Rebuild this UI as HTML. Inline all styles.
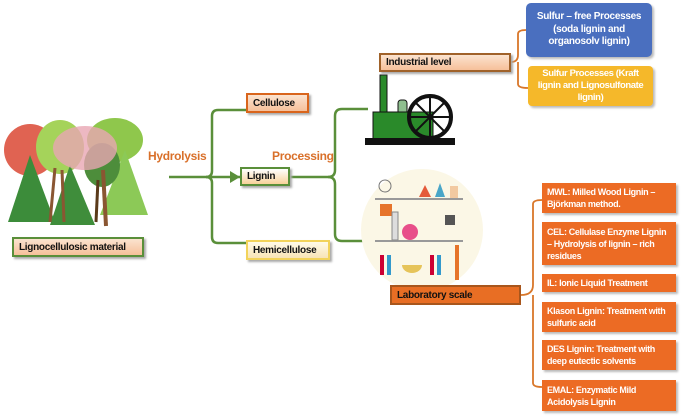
<!DOCTYPE html>
<html><head><meta charset="utf-8"><style>
body{margin:0;width:685px;height:419px;background:#fff;position:relative;overflow:hidden;font-family:"Liberation Sans",sans-serif;}
.b{position:absolute;box-sizing:border-box;font-weight:bold;font-size:10px;display:flex;align-items:center;letter-spacing:-0.3px;}
.pe{background:linear-gradient(#fbe3cf,#f6c09a);color:#111;padding-left:5px;box-shadow:2px 2px 2px #aaa;}
.o{background:#ec6b24;color:#fff;padding:2px 5px;font-size:9px;line-height:12px;box-shadow:2px 2px 2px #bbb;letter-spacing:-0.35px;}
.t{position:absolute;color:#d9702a;font-weight:bold;font-size:12px;letter-spacing:-0.3px;}
</style></head><body>
<svg width="685" height="419" style="position:absolute;left:0;top:0">
<ellipse cx="30" cy="150" rx="26" ry="26" fill="#e06352"/>
<ellipse cx="60" cy="147" rx="24" ry="27" fill="#a5d35a"/>
<ellipse cx="115" cy="140" rx="28" ry="22" fill="#8fc74c"/>
<polygon points="30,155 8,222 55,222" fill="#3c8c3a"/>
<polygon points="70,165 50,225 95,225" fill="#3f8d3b"/>
<polygon points="125,150 100,215 148,215" fill="#8cc957"/>
<ellipse cx="102" cy="165" rx="18" ry="22" fill="#4d8d3b"/>
<ellipse cx="85" cy="148" rx="32" ry="22" fill="#e9a6b3" opacity=".8"/>
<line x1="55" y1="168" x2="50" y2="222" stroke="#8a5632" stroke-width="3"/>
<line x1="62" y1="170" x2="64" y2="222" stroke="#8a5632" stroke-width="3"/>
<line x1="103" y1="170" x2="106" y2="226" stroke="#8a5632" stroke-width="4"/>
<line x1="98" y1="180" x2="96" y2="222" stroke="#5a3a1a" stroke-width="3"/>
<g fill="none" stroke="#5a8f3a" stroke-width="2.5">
<path d="M169,177 H240"/>
<path d="M246,110 H218 Q212,110 212,116 V171 Q212,177 206,177"/>
<path d="M246,243 H218 Q212,243 212,237 V183 Q212,177 206,177"/>
<path d="M290,177 H328 Q335,177 335,170 V116 Q335,109 342,109 H368"/>
<path d="M328,177 Q335,177 335,184 V234 Q335,241 342,241 H365"/>
</g>
<polygon points="240,177 230,171 230,183" fill="#5a8f3a"/>
<g fill="none" stroke="#d9772a" stroke-width="1.8">
<path d="M511,62 Q518,62 518,55 V34 Q518,30 526,30"/>
<path d="M518,62 V84 Q518,88 528,88"/>
<path d="M521,295 Q533,295 533,285 V204 Q533,200 542,200"/>
<path d="M533,295 V383 Q533,387 542,387"/>
</g>
<rect x="380" y="75" width="7" height="40" fill="#2a8a2a" stroke="#111"/>
<rect x="398" y="100" width="9" height="15" rx="3" fill="#8fbf8f" stroke="#111"/>
<rect x="373" y="112" width="60" height="28" fill="#2a8a2a" stroke="#111"/>
<circle cx="430" cy="117" r="21" fill="none" stroke="#111" stroke-width="4"/>
<g stroke="#111" stroke-width="2"><line x1="409" y1="117" x2="451" y2="117"/><line x1="430" y1="96" x2="430" y2="138"/><line x1="415" y1="102" x2="445" y2="132"/><line x1="445" y1="102" x2="415" y2="132"/></g>
<rect x="365" y="138" width="90" height="7" fill="#111"/>
<circle cx="422" cy="230" r="61" fill="#fbf7e6"/>
<rect x="375" y="198" width="88" height="2" fill="#999"/>
<rect x="375" y="240" width="88" height="2" fill="#999"/>
<circle cx="385" cy="186" r="6" fill="none" stroke="#777"/>
<rect x="380" y="204" width="12" height="12" fill="#e6742a"/>
<path d="M425,185 l-6,12 h12 z" fill="#e45a3a"/><path d="M440,183 l-5,14 h10 z" fill="#49a6c8"/>
<rect x="450" y="186" width="8" height="12" fill="#f2c9a0"/>
<circle cx="410" cy="232" r="8" fill="#e84f8a"/>
<rect x="392" y="212" width="6" height="28" fill="#ddd" stroke="#888"/>
<rect x="445" y="215" width="10" height="10" fill="#555"/>
<rect x="455" y="245" width="4" height="35" fill="#e6742a"/>
<rect x="380" y="255" width="4" height="20" fill="#c03"/><rect x="387" y="255" width="4" height="20" fill="#39c"/>
<path d="M402,265 h20 a10,8 0 0 1 -20,0z" fill="#e6c45a"/>
<rect x="430" y="255" width="4" height="20" fill="#c03"/><rect x="437" y="255" width="4" height="20" fill="#39c"/>
</svg>
<div class="t" style="left:148px;top:149px">Hydrolysis</div>
<div class="t" style="left:272px;top:149px">Processing</div>
<div class="b pe" style="left:246px;top:93px;width:63px;height:20px;border:2px solid #d9651c;">Cellulose</div>
<div class="b pe" style="left:240px;top:167px;width:50px;height:19px;border:2px solid #5a8f3a;background:linear-gradient(#fff,#f8d199)">Lignin</div>
<div class="b pe" style="left:246px;top:240px;width:84px;height:20px;border:2px solid #f2d35a;background:linear-gradient(#fffbe8,#f8e4b6)">Hemicellulose</div>
<div class="b pe" style="left:12px;top:237px;width:132px;height:20px;border:2px solid #5a8f3a;">Lignocellulosic material</div>
<div class="b pe" style="left:379px;top:53px;width:132px;height:19px;border:2px solid #a0622a;">Industrial level</div>
<div class="b" style="left:526px;top:3px;width:126px;height:54px;background:#4a6fbf;color:#fff;border-radius:5px;justify-content:center;text-align:center;font-size:10px;line-height:12.5px;box-shadow:2px 2px 2px #bbb;padding:0 10px">Sulfur – free Processes (soda lignin and organosolv lignin)</div>
<div class="b" style="left:528px;top:66px;width:125px;height:40px;background:#f5b82a;color:#fff;border-radius:4px;justify-content:center;text-align:center;font-size:9.5px;line-height:12px;box-shadow:2px 2px 2px #bbb;letter-spacing:-0.4px;padding:0 2px">Sulfur Processes (Kraft lignin and Lignosulfonate lignin)</div>
<div class="b" style="left:390px;top:285px;width:131px;height:20px;background:#e86e24;color:#111;padding-left:5px;border:2px solid #a8561c;">Laboratory scale</div>
<div class="b o" style="left:542px;top:183px;width:134px;height:30px">MWL: Milled Wood Lignin – Björkman method.</div>
<div class="b o" style="left:542px;top:222px;width:134px;height:43px">CEL: Cellulase Enzyme Lignin – Hydrolysis of lignin – rich residues</div>
<div class="b o" style="left:542px;top:274px;width:134px;height:18px">IL: Ionic Liquid Treatment</div>
<div class="b o" style="left:542px;top:302px;width:134px;height:30px">Klason Lignin: Treatment with sulfuric acid</div>
<div class="b o" style="left:542px;top:340px;width:134px;height:30px">DES Lignin: Treatment with deep eutectic solvents</div>
<div class="b o" style="left:542px;top:380px;width:134px;height:31px">EMAL: Enzymatic Mild Acidolysis Lignin</div>
</body></html>
